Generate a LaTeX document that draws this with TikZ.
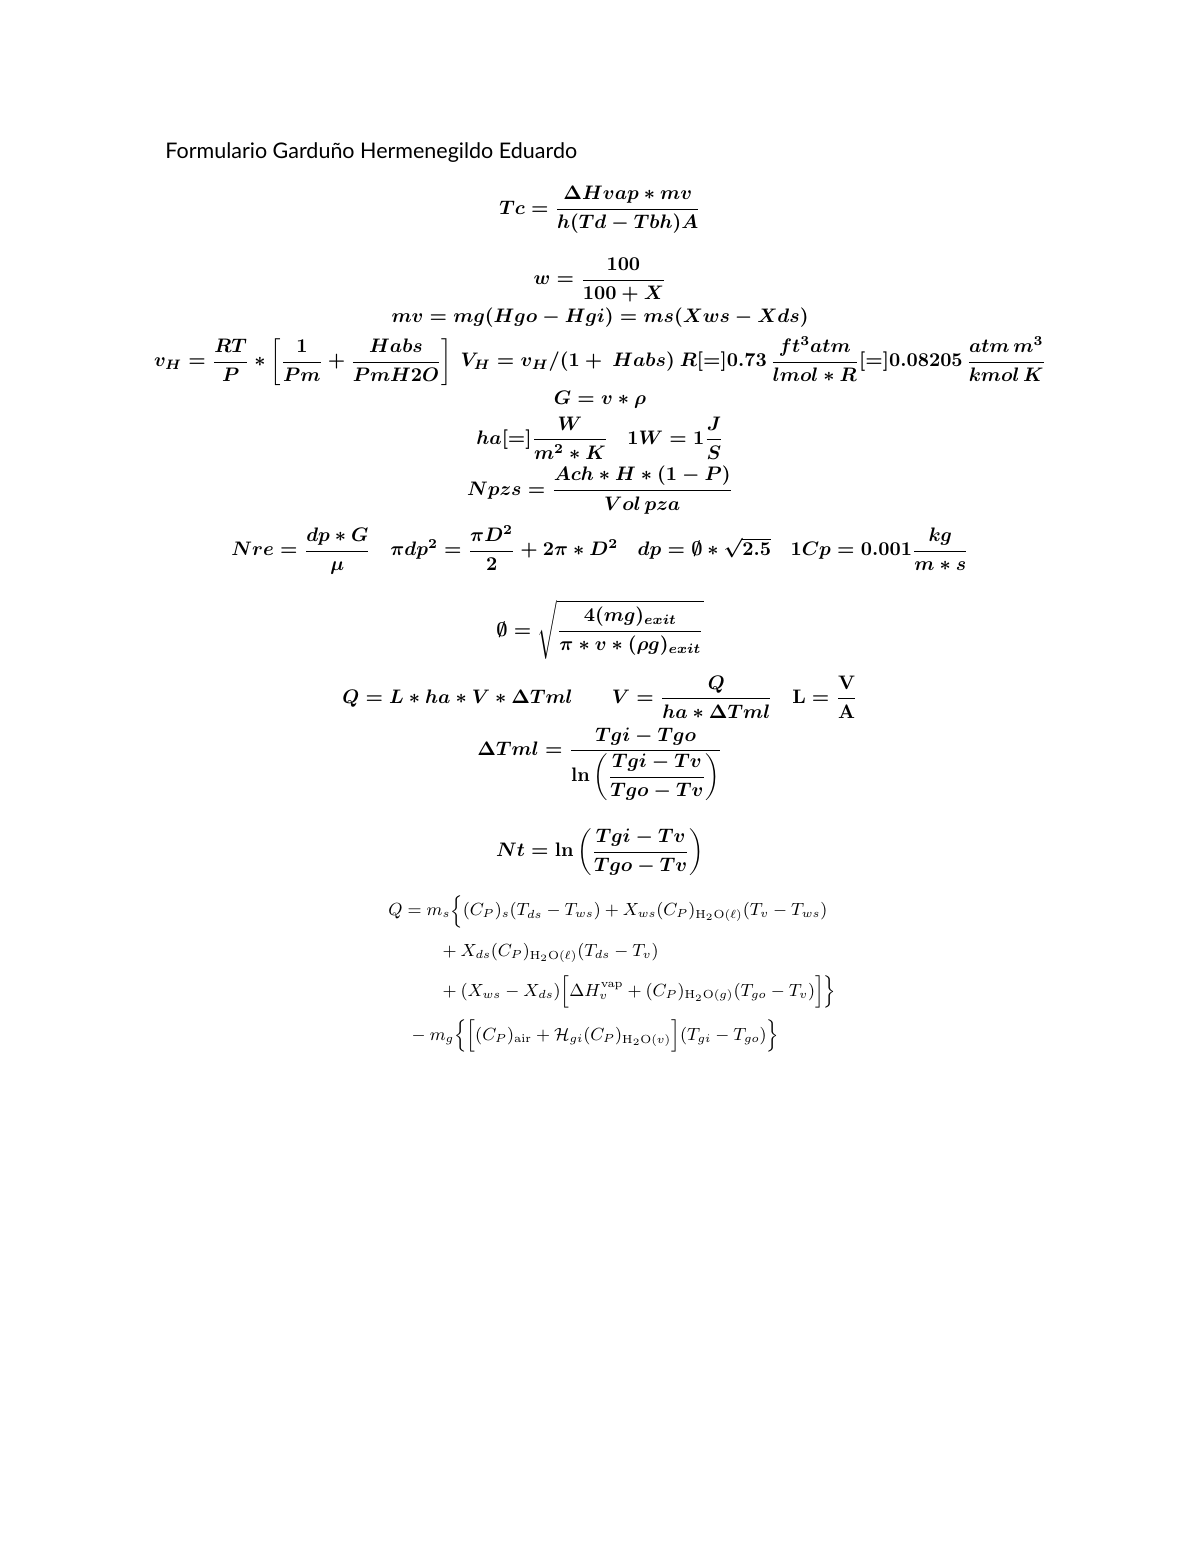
\documentclass[tikz,border=0pt]{standalone}
\usepackage{amsmath,amssymb}
\usepackage[no-math]{fontspec}
\setmainfont{Lato}
\begin{document}
\begin{tikzpicture}[x=0.01799cm,y=-0.01799cm,
  eq/.style={inner sep=0pt,font=\fontsize{10}{12}\selectfont\boldmath}]
\useasboundingbox (0,0) rectangle (1200,1553);
\node[anchor=west,inner sep=0pt,font=\fontsize{11}{14}\selectfont] (title) at (165,153) {Formulario Garduño Hermenegildo Eduardo};
\node[eq] (tc) at (600,210) {$Tc=\dfrac{\Delta Hvap*mv}{h(Td-Tbh)A}$};
\node[eq] (w) at (600,280) {$w=\dfrac{100}{100+X}$};
\node[eq] (mv) at (600,318) {$mv=mg(Hgo-Hgi)=ms(Xws-Xds)$};
\node[eq] (vh) at (600,361) {$v_H=\dfrac{RT}{P}*\left[\dfrac{1}{Pm}+\dfrac{Habs}{PmH2O}\right]\ V_H=v_H/(1+\ Habs)\ R[=]0.73\,\dfrac{ft^3atm}{lmol*R}[=]0.08205\,\dfrac{atm\,m^3}{kmol\,K}$};
\node[eq] (g) at (600,400) {$G=v*\rho$};
\node[eq] (ha) at (600,438) {$ha[=]\dfrac{W}{m^2*K}\quad 1W=1\dfrac{J}{S}$};
\node[eq] (np) at (600,490) {$Npzs=\dfrac{Ach*H*(1-P)}{Vol\,pza}$};
\node[eq] (nre) at (600,550) {$Nre=\dfrac{dp*G}{\mu}\quad \pi dp^2=\dfrac{\pi D^2}{2}+2\pi*D^2\quad dp=\emptyset*\sqrt{2.5}\quad 1Cp=0.001\dfrac{kg}{m*s}$};
\node[eq] (phi) at (600,630) {$\emptyset=\sqrt{\dfrac{4(mg)_{exit}}{\pi*v*(\rho g)_{exit}}}$};
\node[eq] (q) at (600,697) {$Q=L*ha*V*\Delta Tml\qquad V=\dfrac{Q}{ha*\Delta Tml}\quad \mathrm{L}=\dfrac{\mathrm{V}}{\mathrm{A}}$};
\node[eq] (dt) at (600,764) {$\Delta Tml=\dfrac{Tgi-Tgo}{\ln\left(\dfrac{Tgi-Tv}{Tgo-Tv}\right)}$};
\node[eq] (nt) at (600,852) {$Nt=\ln\left(\dfrac{Tgi-Tv}{Tgo-Tv}\right)$};
\node[inner sep=0pt,font=\fontsize{9.2}{12.5}\selectfont,anchor=north west] (big) at (388,895) {$\begin{aligned}
Q&=m_s\Big\{(C_P)_s(T_{ds}-T_{ws})+X_{ws}(C_P)_{\mathrm{H_2O}(\ell)}(T_v-T_{ws})\\[2pt]
&\qquad+X_{ds}(C_P)_{\mathrm{H_2O}(\ell)}(T_{ds}-T_v)\\[2pt]
&\qquad+(X_{ws}-X_{ds})\Big[\Delta H_v^{\mathrm{vap}}+(C_P)_{\mathrm{H_2O}(g)}(T_{go}-T_v)\Big]\Big\}\\[2pt]
&\;-m_g\Big\{\Big[(C_P)_{\mathrm{air}}+\mathcal{H}_{gi}(C_P)_{\mathrm{H_2O}(v)}\Big](T_{gi}-T_{go})\Big\}
\end{aligned}$};
\end{tikzpicture}
\end{document}
